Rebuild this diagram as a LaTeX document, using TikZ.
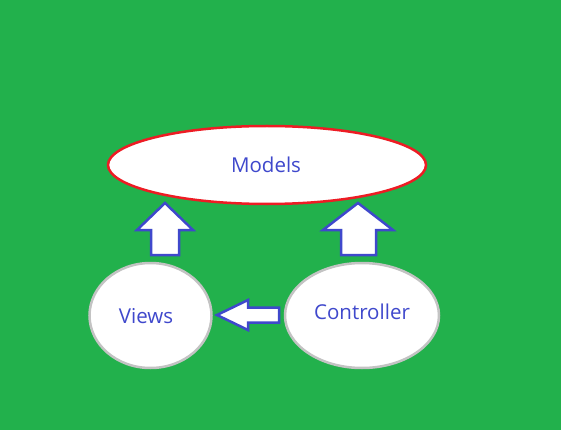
\documentclass[tikz,border=0pt]{standalone}
\usepackage{fontspec}
\setmainfont{Open Sans}
\usetikzlibrary{shapes.geometric}
\definecolor{paintgreen}{RGB}{34,177,76}
\definecolor{paintblue}{RGB}{63,72,204}
\definecolor{paintred}{RGB}{237,28,36}
\definecolor{paintgray}{RGB}{195,195,195}
\tikzset{
  part/.style={ellipse,fill=white,draw=paintgray,line width=2.5pt,inner sep=0pt},
  parttext/.style={text=paintblue,font=\fontsize{20.5}{24}\selectfont,inner sep=0pt},
  blockarrow/.style={draw=paintblue,fill=white,line width=2.5pt,line join=miter}
}
\begin{document}
\begin{tikzpicture}[x=1pt,y=-1pt]
  \fill[paintgreen] (0,0) rectangle (561,430);
  \useasboundingbox (0,0) rectangle (561,430);

  \node[part,draw=paintred,minimum width=318pt,minimum height=78pt] (models) at (267,165) {};
  \node[part,minimum width=122pt,minimum height=105pt] (views) at (150.5,315.5) {};
  \node[part,minimum width=154pt,minimum height=105pt] (controller) at (362,315.5) {};
  \node[parttext] (modelstext) at (266,165) {Models};
  \node[parttext] (viewstext) at (146,316) {Views};
  \node[parttext] (controllertext) at (362,312) {Controller};

  % views -> models
  \draw[blockarrow] (165,203) -- (193,230) -- (179,230) -- (179,255) -- (151,255)
    -- (151,230) -- (137,230) -- cycle;
  % controller -> models
  \draw[blockarrow] (358,203) -- (393,230) -- (376,230) -- (376,255) -- (341,255)
    -- (341,230) -- (323,230) -- cycle;
  % controller -> views
  \draw[blockarrow] (217,315) -- (248,300) -- (248,307.5) -- (279,307.5) -- (279,322.5)
    -- (248,322.5) -- (248,330) -- cycle;
\end{tikzpicture}
\end{document}
